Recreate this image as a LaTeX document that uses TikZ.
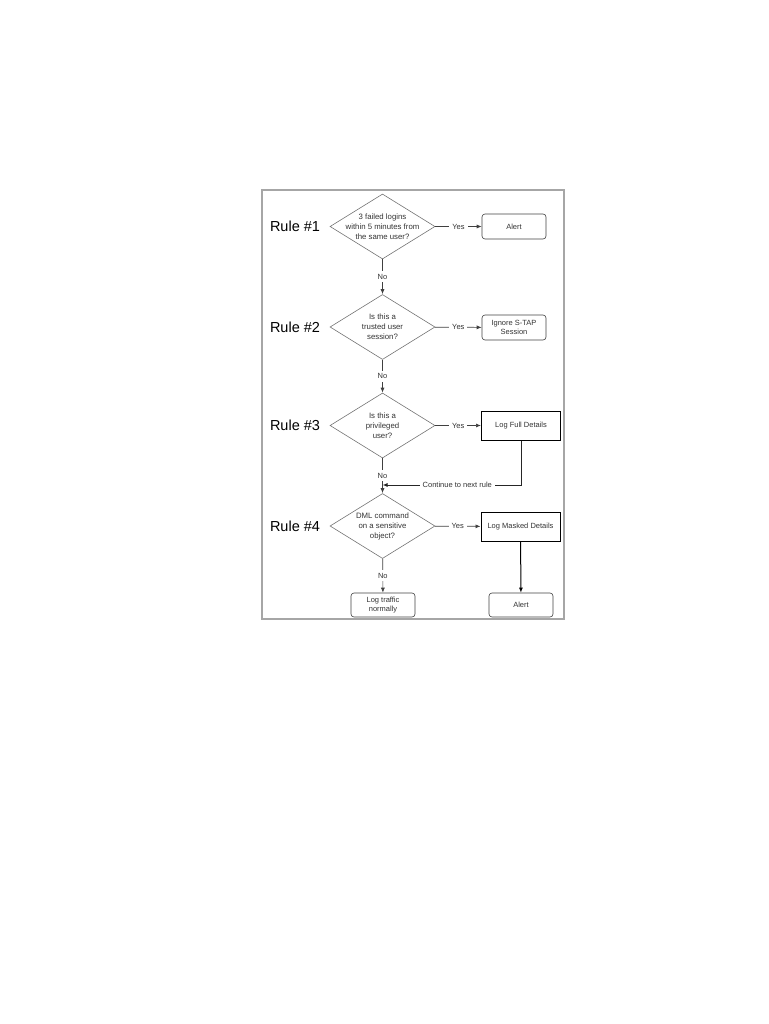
\documentclass[tikz,border=0pt]{standalone}
\usepackage{fontspec}
\setmainfont{Liberation Sans}
\usetikzlibrary{shapes.geometric}
\usetikzlibrary{arrows.meta}
\tikzset{decision/.style={diamond,draw=black!55,line width=.6pt,
   minimum width=105pt,minimum height=65pt,inner sep=0pt},
 dtext/.style={align=center,text=black!80,font=\fontsize{7.8}{10}\selectfont},
 endbox/.style={draw=black!75,rounded corners=3pt,line width=.6pt,
   minimum width=64pt,minimum height=25pt,align=center,text=black!80,
   font=\fontsize{7.5}{9.5}\selectfont},
 actbox/.style={draw=black,line width=1pt,minimum width=79pt,
   minimum height=29pt,text=black!80,font=\fontsize{7.5}{9.5}\selectfont},
 rulename/.style={font=\fontsize{14.5}{17}\selectfont},
 lbl/.style={fill=white,inner sep=3pt,text=black!80,
   font=\fontsize{7.5}{9.5}\selectfont},
 flow/.style={draw=black!75,line width=.7pt,-{Latex[length=5pt,width=4pt]}},
 }

\begin{document}
\begin{tikzpicture}[x=1pt,y=-1pt]
    \useasboundingbox (0,0) rectangle (768,1024);
    \draw[black!35,line width=2pt] (262,190) rectangle (564,619);
    % rules
    \node[rulename] (r1) at (295,226.5) {Rule \#1};
    \node[rulename] (r2) at (295,327) {Rule \#2};
    \node[rulename] (r3) at (295,425.5) {Rule \#3};
    \node[rulename] (r4) at (295,526) {Rule \#4};
    \node[decision,label={[dtext]center:{3 failed logins\\within 5 minutes from\\the same user?}}] (d1) at (382.5,226.5) {};
    \node[decision,label={[dtext]center:{Is this a\\trusted user\\session?}}] (d2) at (382.5,327) {};
    \node[decision,label={[dtext]center:{Is this a\\privileged\\user?}}] (d3) at (382.5,425.5) {};
    \node[decision,label={[dtext]center:{DML command\\on a sensitive\\object?}}] (d4) at (382.5,526) {};
    % outcomes
    \node[endbox] (a1) at (514,226.5) {Alert};
    \node[endbox] (ign) at (514,327.5) {Ignore S-TAP\\Session};
    \node[actbox] (full) at (521,425.5) {Log Full Details};
    \node[actbox] (mask) at (520.5,526.5) {Log Masked Details};
    \node[endbox,minimum height=24pt] (a2) at (521,605) {Alert};
    \node[endbox,minimum height=24pt] (norm) at (383,605) {Log traffic\\normally};
    \coordinate (join) at (382.5,485);
    \draw[flow] (d1) -- node[lbl] {Yes} (a1);
    \draw[flow] (d2) -- node[lbl] {Yes} (ign);
    \draw[flow] (d3) -- node[lbl] {Yes} (full);
    \draw[flow] (d4) -- node[lbl] {Yes} (mask);
    \draw[flow] (d1) -- node[lbl] {No} (d2);
    \draw[flow] (d2) -- node[lbl] {No} (d3);
    \draw[flow] (d3) -- node[lbl,pos=.5] {No} (d4);
    \draw[flow] (d4) -- node[lbl] {No} (norm);
    \draw[flow,draw=black!85,line width=.9pt] (full.south) |- node[lbl,pos=.73] {Continue to next rule} (join);
    \draw[flow,draw=black,line width=1pt] (mask) -- (a2);
\end{tikzpicture}
\end{document}
